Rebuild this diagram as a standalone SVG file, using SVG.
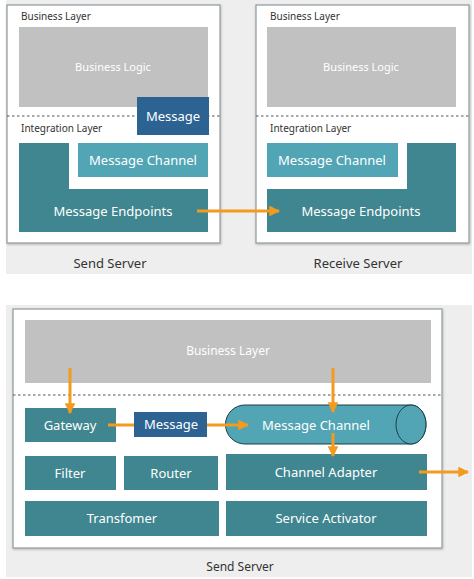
<svg xmlns="http://www.w3.org/2000/svg" width="474" height="579" viewBox="0 0 474 579">
<style>
text{font-family:"Noto Sans","Open Sans","DejaVu Sans",sans-serif;}
.bg{fill:#eeeeee;}
.srv{fill:#ffffff;stroke:#8f9a9c;stroke-width:1.2;}
.gray{fill:#c1c1c1;}
.teal{fill:#3f8690;}
.lteal{fill:#52a5b4;}
.blue{fill:#2c6393;}
.lbl{font-size:10px;fill:#333;}
.w{fill:#ffffff;text-anchor:middle;}
.cap{fill:#333;text-anchor:middle;}
.dash{stroke:#555;stroke-width:1;stroke-dasharray:2.5 2.5;fill:none;}
.arr{stroke:#f39a1f;stroke-width:3;fill:none;}
</style>
<defs>
<marker id="ah" viewBox="0 0 10 10" refX="9" refY="5" markerWidth="3.6" markerHeight="3.6" orient="auto" markerUnits="strokeWidth">
<path d="M0,0 L10,5 L0,10 z" fill="#f39a1f"/>
</marker>
<filter id="sh" x="-5%" y="-5%" width="110%" height="110%">
<feDropShadow dx="0.5" dy="1" stdDeviation="1" flood-color="#000" flood-opacity="0.25"/>
</filter>
</defs>

<rect class="bg" x="6" y="0" width="466" height="274"/>
<rect class="bg" x="6" y="305" width="466" height="272"/>

<g id="send-server-top">
<rect class="srv" x="7" y="5" width="213" height="238" filter="url(#sh)"/>
<text class="lbl" x="21" y="20">Business Layer</text>
<rect class="gray" x="19" y="27" width="189" height="80"/>
<text class="w" x="113" y="71" font-size="11">Business Logic</text>
<line class="dash" x1="7" y1="116" x2="220" y2="116"/>
<text class="lbl" x="21" y="132">Integration Layer</text>
<path class="teal" d="M19,143 H69 V189 H208 V232 H19 Z"/>
<text class="w" x="113" y="216" font-size="13">Message Endpoints</text>
<rect class="lteal" x="78" y="143" width="130" height="34"/>
<text class="w" x="143" y="165" font-size="13">Message Channel</text>
<rect class="blue" x="137" y="97" width="72" height="38"/>
<text class="w" x="173" y="121" font-size="13">Message</text>
<text class="cap" x="110" y="268" font-size="13">Send Server</text>
</g>

<g id="receive-server">
<rect class="srv" x="256" y="5" width="213" height="238" filter="url(#sh)"/>
<text class="lbl" x="270" y="20">Business Layer</text>
<rect class="gray" x="267" y="27" width="189" height="80"/>
<text class="w" x="361" y="71" font-size="11">Business Logic</text>
<line class="dash" x1="256" y1="116" x2="469" y2="116"/>
<text class="lbl" x="270" y="132">Integration Layer</text>
<path class="teal" d="M407,143 H456 V232 H267 V189 H407 Z"/>
<text class="w" x="361" y="216" font-size="13">Message Endpoints</text>
<rect class="lteal" x="267" y="143" width="131" height="34"/>
<text class="w" x="332" y="165" font-size="13">Message Channel</text>
<text class="cap" x="358" y="268" font-size="13">Receive Server</text>
</g>

<g id="send-server-bottom">
<rect class="srv" x="13" y="309" width="429" height="239" filter="url(#sh)"/>
<rect class="gray" x="25" y="320" width="406" height="63"/>
<text class="w" x="228" y="355" font-size="12">Business Layer</text>
<line class="dash" x1="13" y1="395" x2="442" y2="395"/>
<text class="cap" x="240" y="571" font-size="12">Send Server</text>
</g>

<g id="gateway">
<rect class="teal" x="25" y="408" width="91" height="34"/>
<text class="w" x="70" y="430" font-size="13">Gateway</text>
</g>
<g id="message-channel">
<path d="M245,405 H411 A15,19.5 0 0 1 411,444 H245 A19.5,19.5 0 0 1 245,405 Z" fill="#52a5b4" stroke="#1e3c44" stroke-width="1"/>
<ellipse cx="411" cy="424.5" rx="15" ry="19.5" fill="#52a5b4" stroke="#1e3c44" stroke-width="1"/>
<text class="w" x="316" y="430" font-size="13">Message Channel</text>
</g>
<g id="filter">
<rect class="teal" x="25" y="456" width="91" height="34"/>
<text class="w" x="70" y="478" font-size="13">Filter</text>
</g>
<g id="router">
<rect class="teal" x="124" y="456" width="94" height="34"/>
<text class="w" x="171" y="478" font-size="13">Router</text>
</g>
<g id="channel-adapter">
<rect class="teal" x="226" y="454" width="201" height="36"/>
<text class="w" x="326" y="477" font-size="13">Channel Adapter</text>
</g>
<g id="transfomer">
<rect class="teal" x="25" y="501" width="194" height="35"/>
<text class="w" x="122" y="523" font-size="13">Transfomer</text>
</g>
<g id="service-activator">
<rect class="teal" x="226" y="501" width="201" height="35"/>
<text class="w" x="326" y="523" font-size="13">Service Activator</text>
</g>

<g id="connectors">
<line class="arr" x1="197" y1="211" x2="279" y2="211" marker-end="url(#ah)"/>
<line class="arr" x1="70" y1="368" x2="70" y2="413" marker-end="url(#ah)"/>
<line class="arr" x1="108" y1="425" x2="135" y2="425"/>
<line class="arr" x1="207" y1="425" x2="248" y2="425" marker-end="url(#ah)"/>
<line class="arr" x1="333" y1="368" x2="333" y2="412" marker-end="url(#ah)"/>
<line class="arr" x1="333" y1="433" x2="333" y2="456" marker-end="url(#ah)"/>
<line class="arr" x1="419" y1="472" x2="468" y2="472" marker-end="url(#ah)"/>
</g>

<g id="message-bottom">
<rect class="blue" x="134" y="412" width="73" height="25"/>
<text class="w" x="171" y="429" font-size="13">Message</text>
</g>
</svg>
